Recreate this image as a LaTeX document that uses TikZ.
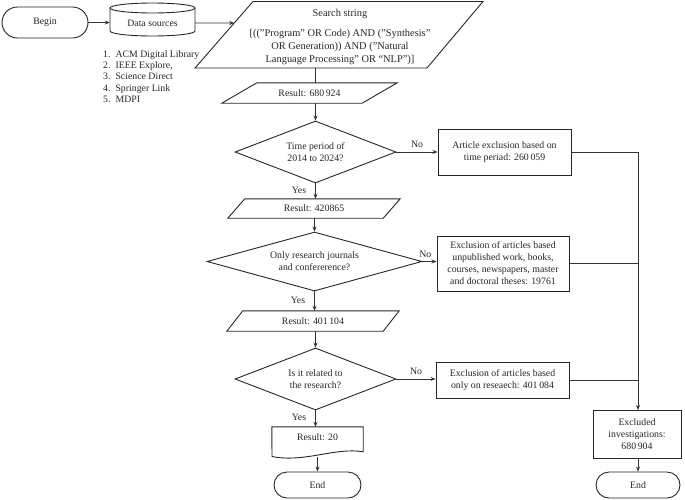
\documentclass[tikz,border=0pt]{standalone}
\usepackage{fontspec}
\setmainfont{Liberation Serif}
\usetikzlibrary{shapes.geometric,arrows.meta,calc}
\begin{document}
\begin{tikzpicture}[x=1pt,y=-1pt,
  line/.style={draw=black!80, line width=0.75pt},
  arr/.style={line, -{Stealth[length=5pt,width=4pt]}},
  shapeline/.style={draw=black!85, line width=0.9pt},
  txt/.style={font=\fontsize{9.8}{12}\selectfont, align=center, text=black!85},
  term/.style={txt, shapeline, inner sep=0pt},
  box/.style={txt, shapeline, inner sep=0pt},
  plain/.style={txt, inner sep=0pt},
  dec/.style={txt, diamond, shapeline, inner sep=0pt},
  lab/.style={font=\fontsize{9.8}{12}\selectfont, text=black!85, inner sep=0pt},
  ]
\useasboundingbox (0,0) rectangle (685,499);

% Begin
\node[term, minimum width=86pt, minimum height=31pt, rounded corners=15.5pt] (begin) at (45,22.5) {Begin};

% Data sources (cylinder)
\node[plain, minimum width=85pt, minimum height=26pt] (ds) at (152.5,23) {Data sources};
\draw[shapeline] (110,8) -- (110,31) arc[start angle=180, end angle=360, x radius=42.5pt, y radius=5pt] -- (195,8);
\draw[shapeline] (152.5,8) ellipse[x radius=42.5pt, y radius=5pt];

\node[lab, anchor=north west, align=left] (list) at (103,49) {%
\setlength{\tabcolsep}{0pt}\renewcommand{\arraystretch}{0.95}%
\begin{tabular}{r@{\hspace{5pt}}l}
1.&ACM Digital Library\\
2.&IEEE Explore,\\
3.&Science Direct\\
4.&Springer Link\\
5.&MDPI
\end{tabular}};

% Search string
\coordinate (ssTL) at (253,1.5);
\coordinate (ssTR) at (483,1.5);
\coordinate (ssBR) at (427,68);
\coordinate (ssBL) at (195,68);
\draw[shapeline] (ssTL) -- (ssTR) -- (ssBR) -- (ssBL) -- cycle;
\node[txt, font=\fontsize{10.4}{13}\selectfont, anchor=north] (ss) at (340,5.5) {Search string\\[7pt]
[(("Program" OR Code) AND ("Synthesis"\\
OR Generation)) AND ("Natural\\
Language Processing" OR “NLP")]};
\coordinate (ssin) at ($(ssTL)!0.323!(ssBL)$);

% Result 1
\node[plain, minimum width=140pt, minimum height=20pt] (r1) at (309.5,93) {Result: 680\,924};
\draw[shapeline] ([xshift=17.5pt]r1.north west) -- ([xshift=17.5pt]r1.north east) -- ([xshift=-17.5pt]r1.south east) -- ([xshift=-17.5pt]r1.south west) -- cycle;

% Decision 1
\node[dec, aspect=2.6, minimum width=161pt, minimum height=62pt] (d1) at (315.5,152) {Time period of\\2014 to 2024?};
\node[box, minimum width=133pt, minimum height=46pt] (b1) at (504.5,152) {Article exclusion based on\\time periad: 260\,059};

% Result 2
\node[plain, minimum width=155pt, minimum height=19pt] (r2) at (314,208.5) {Result: 420865};
\draw[shapeline] ([xshift=8.5pt]r2.north west) -- ([xshift=8.5pt]r2.north east) -- ([xshift=-8.5pt]r2.south east) -- ([xshift=-8.5pt]r2.south west) -- cycle;

% Decision 2
\node[dec, aspect=3.6, minimum width=215pt, minimum height=59pt] (d2) at (314.5,261.5) {Only research journals\\and confererence?};
\node[box, minimum width=132pt, minimum height=55pt] (b2) at (503,263.5) {Exclusion of articles based\\unpublished work, books,\\courses, newspapers, master\\and doctoral theses: 19761};

% Result 3
\node[plain, minimum width=156pt, minimum height=20pt] (r3) at (313,321) {Result: 401\,104};
\draw[shapeline] ([xshift=8pt]r3.north west) -- ([xshift=8pt]r3.north east) -- ([xshift=-8pt]r3.south east) -- ([xshift=-8pt]r3.south west) -- cycle;

% Decision 3
\node[dec, aspect=2.6, minimum width=161pt, minimum height=62pt] (d3) at (315.5,379) {Is it related to\\the research?};
\node[box, minimum width=133pt, minimum height=36pt] (b3) at (502.5,380) {Exclusion of articles based\\only on reseaech: 401\,084};

% Result 20 (document)
\node[plain, minimum width=91pt, minimum height=20pt] (r20) at (317.5,437) {Result: 20};
\draw[shapeline] (r20.north west) -- (r20.north east) -- ++(0,25)
  .. controls (335,447) and (305,463) .. (272,456.5) -- cycle;
\coordinate (r20b) at (317.5,457);

% Ends
\node[term, minimum width=87pt, minimum height=26pt, rounded corners=13pt] (end1) at (317.5,485) {End};
\node[box, minimum width=88pt, minimum height=48pt] (exc) at (637,434) {Excluded\\investigations:\\680\,904};
\node[term, minimum width=84pt, minimum height=26pt, rounded corners=13pt] (end2) at (638,485) {End};
\coordinate (vx) at (638,410);

% connectors
\draw[arr] (begin) -- (ds.west |- begin);
\draw[arr] (ds.east) -- (ssin);
\draw[line] (ssBL -| r1.north) ++(6pt,0) -- ([xshift=6pt]r1.north);
\draw[arr] (r1.south -| d1.north) -- (d1.north);
\draw[arr] (d1.east) -- node[lab, above=4pt, pos=0.5] (no1) {No} (b1.west);
\draw[arr] (d1.south) -- node[lab, left=9pt, pos=0.45] (yes1) {Yes} (d1.south |- r2.north);
\draw[arr] (r2.south -| d2.north) -- (d2.north);
\draw[arr] (d2.east) -- node[lab, above=4pt, pos=0.2] (no2) {No} (d2.east -| b2.west);
\draw[arr] (d2.south) -- node[lab, left=9pt, pos=0.45] (yes2) {Yes} (d2.south |- r3.north);
\draw[arr] (r3.south -| d3.north) -- (d3.north);
\draw[arr] (d3.east) -- node[lab, above=4pt, pos=0.5] (no3) {No} (d3.east -| b3.west);
\draw[arr] (d3.south) -- node[lab, left=9pt, pos=0.45] (yes3) {Yes} (d3.south |- r20.north);
\draw[arr] (r20b) -- (end1);
\draw[arr] (b1.east) -| (vx);
\draw[line] (b2.east) -- (b2.east -| vx);
\draw[line] (b3.east) -- (b3.east -| vx);
\draw[arr] (exc.south -| end2) -- (end2);
\end{tikzpicture}
\end{document}
